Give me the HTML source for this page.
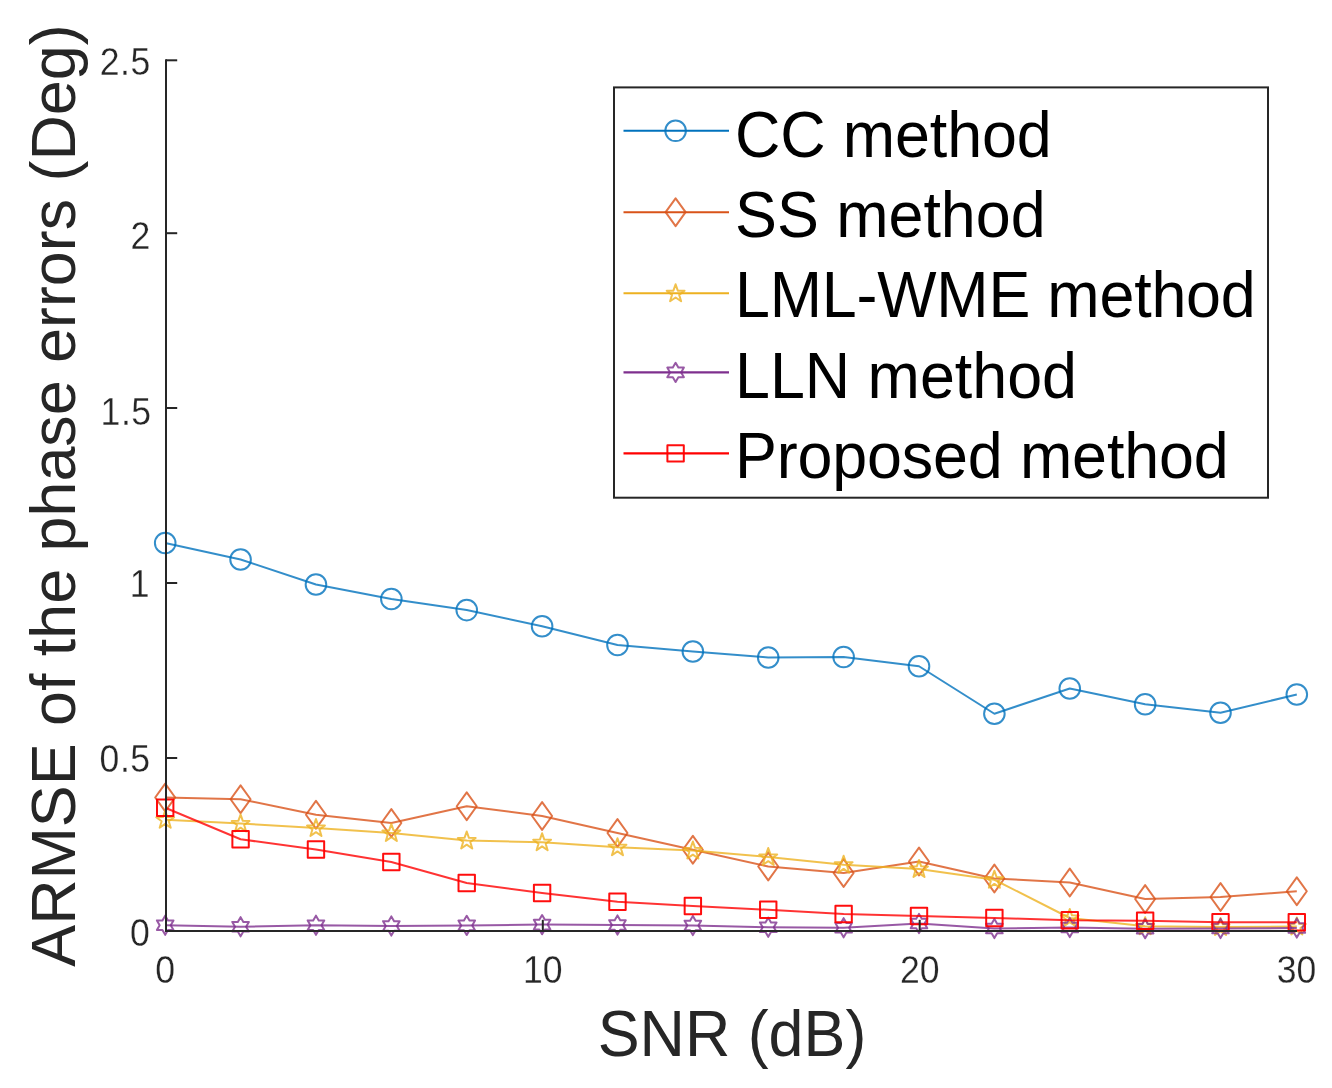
<!DOCTYPE html>
<html lang="en"><head><meta charset="utf-8"><title>ARMSE of the phase errors vs SNR</title>
<style>html,body{margin:0;padding:0;background:#fff}body{width:1332px;height:1088px;overflow:hidden}svg{display:block;filter:blur(0.5px)}</style></head>
<body>
<svg width="1332" height="1088" viewBox="0 0 1332 1088" font-family="'Liberation Sans', Arial, sans-serif">
<rect width="1332" height="1088" fill="#fff"/>
<g>
<polyline points="165.2,543 240.58,559.5 315.96,584.5 391.34,599 466.72,610.1 542.1,626.25 617.48,645 692.86,651.5 768.24,657.5 843.62,657 919,666.25 994.38,713.75 1069.76,688.5 1145.14,704.25 1220.52,712.75 1296.8,694.5" fill="none" stroke="#0072BD" stroke-width="2.0" stroke-opacity="0.8" stroke-linejoin="round"/>
<circle cx="165.2" cy="543" r="10.3" fill="none" stroke="#0072BD" stroke-width="2.0" stroke-opacity="0.8" stroke-linejoin="round"/>
<circle cx="240.58" cy="559.5" r="10.3" fill="none" stroke="#0072BD" stroke-width="2.0" stroke-opacity="0.8" stroke-linejoin="round"/>
<circle cx="315.96" cy="584.5" r="10.3" fill="none" stroke="#0072BD" stroke-width="2.0" stroke-opacity="0.8" stroke-linejoin="round"/>
<circle cx="391.34" cy="599" r="10.3" fill="none" stroke="#0072BD" stroke-width="2.0" stroke-opacity="0.8" stroke-linejoin="round"/>
<circle cx="466.72" cy="610.1" r="10.3" fill="none" stroke="#0072BD" stroke-width="2.0" stroke-opacity="0.8" stroke-linejoin="round"/>
<circle cx="542.1" cy="626.25" r="10.3" fill="none" stroke="#0072BD" stroke-width="2.0" stroke-opacity="0.8" stroke-linejoin="round"/>
<circle cx="617.48" cy="645" r="10.3" fill="none" stroke="#0072BD" stroke-width="2.0" stroke-opacity="0.8" stroke-linejoin="round"/>
<circle cx="692.86" cy="651.5" r="10.3" fill="none" stroke="#0072BD" stroke-width="2.0" stroke-opacity="0.8" stroke-linejoin="round"/>
<circle cx="768.24" cy="657.5" r="10.3" fill="none" stroke="#0072BD" stroke-width="2.0" stroke-opacity="0.8" stroke-linejoin="round"/>
<circle cx="843.62" cy="657" r="10.3" fill="none" stroke="#0072BD" stroke-width="2.0" stroke-opacity="0.8" stroke-linejoin="round"/>
<circle cx="919" cy="666.25" r="10.3" fill="none" stroke="#0072BD" stroke-width="2.0" stroke-opacity="0.8" stroke-linejoin="round"/>
<circle cx="994.38" cy="713.75" r="10.3" fill="none" stroke="#0072BD" stroke-width="2.0" stroke-opacity="0.8" stroke-linejoin="round"/>
<circle cx="1069.76" cy="688.5" r="10.3" fill="none" stroke="#0072BD" stroke-width="2.0" stroke-opacity="0.8" stroke-linejoin="round"/>
<circle cx="1145.14" cy="704.25" r="10.3" fill="none" stroke="#0072BD" stroke-width="2.0" stroke-opacity="0.8" stroke-linejoin="round"/>
<circle cx="1220.52" cy="712.75" r="10.3" fill="none" stroke="#0072BD" stroke-width="2.0" stroke-opacity="0.8" stroke-linejoin="round"/>
<circle cx="1296.8" cy="694.5" r="10.3" fill="none" stroke="#0072BD" stroke-width="2.0" stroke-opacity="0.8" stroke-linejoin="round"/>
</g>
<g>
<polyline points="165.2,797.5 240.58,799.25 315.96,814.75 391.34,823 466.72,806.25 542.1,816 617.48,833 692.86,849.75 768.24,866.5 843.62,873 919,861.5 994.38,878.5 1069.76,882.5 1145.14,899 1220.52,897 1296.8,891.25" fill="none" stroke="#D95319" stroke-width="2.0" stroke-opacity="0.8" stroke-linejoin="round"/>
<polygon points="165.2,783.6 175.2,797.5 165.2,811.4 155.2,797.5" fill="none" stroke="#D95319" stroke-width="2.0" stroke-opacity="0.8" stroke-linejoin="round"/>
<polygon points="240.58,785.35 250.58,799.25 240.58,813.15 230.58,799.25" fill="none" stroke="#D95319" stroke-width="2.0" stroke-opacity="0.8" stroke-linejoin="round"/>
<polygon points="315.96,800.85 325.96,814.75 315.96,828.65 305.96,814.75" fill="none" stroke="#D95319" stroke-width="2.0" stroke-opacity="0.8" stroke-linejoin="round"/>
<polygon points="391.34,809.1 401.34,823 391.34,836.9 381.34,823" fill="none" stroke="#D95319" stroke-width="2.0" stroke-opacity="0.8" stroke-linejoin="round"/>
<polygon points="466.72,792.35 476.72,806.25 466.72,820.15 456.72,806.25" fill="none" stroke="#D95319" stroke-width="2.0" stroke-opacity="0.8" stroke-linejoin="round"/>
<polygon points="542.1,802.1 552.1,816 542.1,829.9 532.1,816" fill="none" stroke="#D95319" stroke-width="2.0" stroke-opacity="0.8" stroke-linejoin="round"/>
<polygon points="617.48,819.1 627.48,833 617.48,846.9 607.48,833" fill="none" stroke="#D95319" stroke-width="2.0" stroke-opacity="0.8" stroke-linejoin="round"/>
<polygon points="692.86,835.85 702.86,849.75 692.86,863.65 682.86,849.75" fill="none" stroke="#D95319" stroke-width="2.0" stroke-opacity="0.8" stroke-linejoin="round"/>
<polygon points="768.24,852.6 778.24,866.5 768.24,880.4 758.24,866.5" fill="none" stroke="#D95319" stroke-width="2.0" stroke-opacity="0.8" stroke-linejoin="round"/>
<polygon points="843.62,859.1 853.62,873 843.62,886.9 833.62,873" fill="none" stroke="#D95319" stroke-width="2.0" stroke-opacity="0.8" stroke-linejoin="round"/>
<polygon points="919,847.6 929,861.5 919,875.4 909,861.5" fill="none" stroke="#D95319" stroke-width="2.0" stroke-opacity="0.8" stroke-linejoin="round"/>
<polygon points="994.38,864.6 1004.38,878.5 994.38,892.4 984.38,878.5" fill="none" stroke="#D95319" stroke-width="2.0" stroke-opacity="0.8" stroke-linejoin="round"/>
<polygon points="1069.76,868.6 1079.76,882.5 1069.76,896.4 1059.76,882.5" fill="none" stroke="#D95319" stroke-width="2.0" stroke-opacity="0.8" stroke-linejoin="round"/>
<polygon points="1145.14,885.1 1155.14,899 1145.14,912.9 1135.14,899" fill="none" stroke="#D95319" stroke-width="2.0" stroke-opacity="0.8" stroke-linejoin="round"/>
<polygon points="1220.52,883.1 1230.52,897 1220.52,910.9 1210.52,897" fill="none" stroke="#D95319" stroke-width="2.0" stroke-opacity="0.8" stroke-linejoin="round"/>
<polygon points="1296.8,877.35 1306.8,891.25 1296.8,905.15 1286.8,891.25" fill="none" stroke="#D95319" stroke-width="2.0" stroke-opacity="0.8" stroke-linejoin="round"/>
</g>
<g>
<polyline points="165.2,819.75 240.58,823.5 315.96,828 391.34,833 466.72,840.5 542.1,842.25 617.48,847.25 692.86,850.5 768.24,857 843.62,864.75 919,869 994.38,879.75 1069.76,918 1145.14,926.3 1220.52,927 1296.8,926.5" fill="none" stroke="#EDB120" stroke-width="2.0" stroke-opacity="0.8" stroke-linejoin="round"/>
<polygon points="165.2,810.75 167.41,817.11 174.14,817.25 168.78,821.31 170.73,827.75 165.2,823.91 159.67,827.75 161.62,821.31 156.26,817.25 162.99,817.11" fill="none" stroke="#EDB120" stroke-width="2.0" stroke-opacity="0.8" stroke-linejoin="round"/>
<polygon points="240.58,814.5 242.79,820.86 249.52,821 244.16,825.06 246.11,831.5 240.58,827.66 235.05,831.5 237,825.06 231.64,821 238.37,820.86" fill="none" stroke="#EDB120" stroke-width="2.0" stroke-opacity="0.8" stroke-linejoin="round"/>
<polygon points="315.96,819 318.17,825.36 324.9,825.5 319.54,829.56 321.49,836 315.96,832.16 310.43,836 312.38,829.56 307.02,825.5 313.75,825.36" fill="none" stroke="#EDB120" stroke-width="2.0" stroke-opacity="0.8" stroke-linejoin="round"/>
<polygon points="391.34,824 393.55,830.36 400.28,830.5 394.92,834.56 396.87,841 391.34,837.16 385.81,841 387.76,834.56 382.4,830.5 389.13,830.36" fill="none" stroke="#EDB120" stroke-width="2.0" stroke-opacity="0.8" stroke-linejoin="round"/>
<polygon points="466.72,831.5 468.93,837.86 475.66,838 470.3,842.06 472.25,848.5 466.72,844.66 461.19,848.5 463.14,842.06 457.78,838 464.51,837.86" fill="none" stroke="#EDB120" stroke-width="2.0" stroke-opacity="0.8" stroke-linejoin="round"/>
<polygon points="542.1,833.25 544.31,839.61 551.04,839.75 545.68,843.81 547.63,850.25 542.1,846.41 536.57,850.25 538.52,843.81 533.16,839.75 539.89,839.61" fill="none" stroke="#EDB120" stroke-width="2.0" stroke-opacity="0.8" stroke-linejoin="round"/>
<polygon points="617.48,838.25 619.69,844.61 626.42,844.75 621.06,848.81 623.01,855.25 617.48,851.41 611.95,855.25 613.9,848.81 608.54,844.75 615.27,844.61" fill="none" stroke="#EDB120" stroke-width="2.0" stroke-opacity="0.8" stroke-linejoin="round"/>
<polygon points="692.86,841.5 695.07,847.86 701.8,848 696.44,852.06 698.39,858.5 692.86,854.66 687.33,858.5 689.28,852.06 683.92,848 690.65,847.86" fill="none" stroke="#EDB120" stroke-width="2.0" stroke-opacity="0.8" stroke-linejoin="round"/>
<polygon points="768.24,848 770.45,854.36 777.18,854.5 771.82,858.56 773.77,865 768.24,861.16 762.71,865 764.66,858.56 759.3,854.5 766.03,854.36" fill="none" stroke="#EDB120" stroke-width="2.0" stroke-opacity="0.8" stroke-linejoin="round"/>
<polygon points="843.62,855.75 845.83,862.11 852.56,862.25 847.2,866.31 849.15,872.75 843.62,868.91 838.09,872.75 840.04,866.31 834.68,862.25 841.41,862.11" fill="none" stroke="#EDB120" stroke-width="2.0" stroke-opacity="0.8" stroke-linejoin="round"/>
<polygon points="919,860 921.21,866.36 927.94,866.5 922.58,870.56 924.53,877 919,873.16 913.47,877 915.42,870.56 910.06,866.5 916.79,866.36" fill="none" stroke="#EDB120" stroke-width="2.0" stroke-opacity="0.8" stroke-linejoin="round"/>
<polygon points="994.38,870.75 996.59,877.11 1003.32,877.25 997.96,881.31 999.91,887.75 994.38,883.91 988.85,887.75 990.8,881.31 985.44,877.25 992.17,877.11" fill="none" stroke="#EDB120" stroke-width="2.0" stroke-opacity="0.8" stroke-linejoin="round"/>
<polygon points="1069.76,909 1071.97,915.36 1078.7,915.5 1073.34,919.56 1075.29,926 1069.76,922.16 1064.23,926 1066.18,919.56 1060.82,915.5 1067.55,915.36" fill="none" stroke="#EDB120" stroke-width="2.0" stroke-opacity="0.8" stroke-linejoin="round"/>
<polygon points="1145.14,917.3 1147.35,923.66 1154.08,923.8 1148.72,927.86 1150.67,934.3 1145.14,930.46 1139.61,934.3 1141.56,927.86 1136.2,923.8 1142.93,923.66" fill="none" stroke="#EDB120" stroke-width="2.0" stroke-opacity="0.8" stroke-linejoin="round"/>
<polygon points="1220.52,918 1222.73,924.36 1229.46,924.5 1224.1,928.56 1226.05,935 1220.52,931.16 1214.99,935 1216.94,928.56 1211.58,924.5 1218.31,924.36" fill="none" stroke="#EDB120" stroke-width="2.0" stroke-opacity="0.8" stroke-linejoin="round"/>
<polygon points="1296.8,917.5 1299.01,923.86 1305.74,924 1300.38,928.06 1302.33,934.5 1296.8,930.66 1291.27,934.5 1293.22,928.06 1287.86,924 1294.59,923.86" fill="none" stroke="#EDB120" stroke-width="2.0" stroke-opacity="0.8" stroke-linejoin="round"/>
</g>
<g>
<polyline points="165.2,925.25 240.58,926.75 315.96,925.25 391.34,926 466.72,925.4 542.1,924.6 617.48,925 692.86,925.5 768.24,927.25 843.62,927.75 919,923.5 994.38,928.5 1069.76,927.5 1145.14,928.7 1220.52,928.5 1296.8,928" fill="none" stroke="#7E2F8E" stroke-width="2.0" stroke-opacity="0.8" stroke-linejoin="round"/>
<polygon points="165.2,915.65 167.97,920.45 173.51,920.45 170.74,925.25 173.51,930.05 167.97,930.05 165.2,934.85 162.43,930.05 156.89,930.05 159.66,925.25 156.89,920.45 162.43,920.45" fill="none" stroke="#7E2F8E" stroke-width="2.0" stroke-opacity="0.8" stroke-linejoin="round"/>
<polygon points="240.58,917.15 243.35,921.95 248.89,921.95 246.12,926.75 248.89,931.55 243.35,931.55 240.58,936.35 237.81,931.55 232.27,931.55 235.04,926.75 232.27,921.95 237.81,921.95" fill="none" stroke="#7E2F8E" stroke-width="2.0" stroke-opacity="0.8" stroke-linejoin="round"/>
<polygon points="315.96,915.65 318.73,920.45 324.27,920.45 321.5,925.25 324.27,930.05 318.73,930.05 315.96,934.85 313.19,930.05 307.65,930.05 310.42,925.25 307.65,920.45 313.19,920.45" fill="none" stroke="#7E2F8E" stroke-width="2.0" stroke-opacity="0.8" stroke-linejoin="round"/>
<polygon points="391.34,916.4 394.11,921.2 399.65,921.2 396.88,926 399.65,930.8 394.11,930.8 391.34,935.6 388.57,930.8 383.03,930.8 385.8,926 383.03,921.2 388.57,921.2" fill="none" stroke="#7E2F8E" stroke-width="2.0" stroke-opacity="0.8" stroke-linejoin="round"/>
<polygon points="466.72,915.8 469.49,920.6 475.03,920.6 472.26,925.4 475.03,930.2 469.49,930.2 466.72,935 463.95,930.2 458.41,930.2 461.18,925.4 458.41,920.6 463.95,920.6" fill="none" stroke="#7E2F8E" stroke-width="2.0" stroke-opacity="0.8" stroke-linejoin="round"/>
<polygon points="542.1,915 544.87,919.8 550.41,919.8 547.64,924.6 550.41,929.4 544.87,929.4 542.1,934.2 539.33,929.4 533.79,929.4 536.56,924.6 533.79,919.8 539.33,919.8" fill="none" stroke="#7E2F8E" stroke-width="2.0" stroke-opacity="0.8" stroke-linejoin="round"/>
<polygon points="617.48,915.4 620.25,920.2 625.79,920.2 623.02,925 625.79,929.8 620.25,929.8 617.48,934.6 614.71,929.8 609.17,929.8 611.94,925 609.17,920.2 614.71,920.2" fill="none" stroke="#7E2F8E" stroke-width="2.0" stroke-opacity="0.8" stroke-linejoin="round"/>
<polygon points="692.86,915.9 695.63,920.7 701.17,920.7 698.4,925.5 701.17,930.3 695.63,930.3 692.86,935.1 690.09,930.3 684.55,930.3 687.32,925.5 684.55,920.7 690.09,920.7" fill="none" stroke="#7E2F8E" stroke-width="2.0" stroke-opacity="0.8" stroke-linejoin="round"/>
<polygon points="768.24,917.65 771.01,922.45 776.55,922.45 773.78,927.25 776.55,932.05 771.01,932.05 768.24,936.85 765.47,932.05 759.93,932.05 762.7,927.25 759.93,922.45 765.47,922.45" fill="none" stroke="#7E2F8E" stroke-width="2.0" stroke-opacity="0.8" stroke-linejoin="round"/>
<polygon points="843.62,918.15 846.39,922.95 851.93,922.95 849.16,927.75 851.93,932.55 846.39,932.55 843.62,937.35 840.85,932.55 835.31,932.55 838.08,927.75 835.31,922.95 840.85,922.95" fill="none" stroke="#7E2F8E" stroke-width="2.0" stroke-opacity="0.8" stroke-linejoin="round"/>
<polygon points="919,913.9 921.77,918.7 927.31,918.7 924.54,923.5 927.31,928.3 921.77,928.3 919,933.1 916.23,928.3 910.69,928.3 913.46,923.5 910.69,918.7 916.23,918.7" fill="none" stroke="#7E2F8E" stroke-width="2.0" stroke-opacity="0.8" stroke-linejoin="round"/>
<polygon points="994.38,918.9 997.15,923.7 1002.69,923.7 999.92,928.5 1002.69,933.3 997.15,933.3 994.38,938.1 991.61,933.3 986.07,933.3 988.84,928.5 986.07,923.7 991.61,923.7" fill="none" stroke="#7E2F8E" stroke-width="2.0" stroke-opacity="0.8" stroke-linejoin="round"/>
<polygon points="1069.76,917.9 1072.53,922.7 1078.07,922.7 1075.3,927.5 1078.07,932.3 1072.53,932.3 1069.76,937.1 1066.99,932.3 1061.45,932.3 1064.22,927.5 1061.45,922.7 1066.99,922.7" fill="none" stroke="#7E2F8E" stroke-width="2.0" stroke-opacity="0.8" stroke-linejoin="round"/>
<polygon points="1145.14,919.1 1147.91,923.9 1153.45,923.9 1150.68,928.7 1153.45,933.5 1147.91,933.5 1145.14,938.3 1142.37,933.5 1136.83,933.5 1139.6,928.7 1136.83,923.9 1142.37,923.9" fill="none" stroke="#7E2F8E" stroke-width="2.0" stroke-opacity="0.8" stroke-linejoin="round"/>
<polygon points="1220.52,918.9 1223.29,923.7 1228.83,923.7 1226.06,928.5 1228.83,933.3 1223.29,933.3 1220.52,938.1 1217.75,933.3 1212.21,933.3 1214.98,928.5 1212.21,923.7 1217.75,923.7" fill="none" stroke="#7E2F8E" stroke-width="2.0" stroke-opacity="0.8" stroke-linejoin="round"/>
<polygon points="1296.8,918.4 1299.57,923.2 1305.11,923.2 1302.34,928 1305.11,932.8 1299.57,932.8 1296.8,937.6 1294.03,932.8 1288.49,932.8 1291.26,928 1288.49,923.2 1294.03,923.2" fill="none" stroke="#7E2F8E" stroke-width="2.0" stroke-opacity="0.8" stroke-linejoin="round"/>
</g>
<g>
<polyline points="165.2,807.75 240.58,839.25 315.96,849.5 391.34,862 466.72,883 542.1,893 617.48,901.75 692.86,906 768.24,909.75 843.62,914 919,916 994.38,918 1069.76,920.3 1145.14,920.7 1220.52,922.25 1296.8,922.25" fill="none" stroke="#FF0000" stroke-width="2.0" stroke-opacity="0.8" stroke-linejoin="round"/>
<rect x="157" y="799.55" width="16.4" height="16.4" fill="none" stroke="#FF0000" stroke-width="2.0" stroke-opacity="0.95" stroke-linejoin="round"/>
<rect x="232.38" y="831.05" width="16.4" height="16.4" fill="none" stroke="#FF0000" stroke-width="2.0" stroke-opacity="0.95" stroke-linejoin="round"/>
<rect x="307.76" y="841.3" width="16.4" height="16.4" fill="none" stroke="#FF0000" stroke-width="2.0" stroke-opacity="0.95" stroke-linejoin="round"/>
<rect x="383.14" y="853.8" width="16.4" height="16.4" fill="none" stroke="#FF0000" stroke-width="2.0" stroke-opacity="0.95" stroke-linejoin="round"/>
<rect x="458.52" y="874.8" width="16.4" height="16.4" fill="none" stroke="#FF0000" stroke-width="2.0" stroke-opacity="0.95" stroke-linejoin="round"/>
<rect x="533.9" y="884.8" width="16.4" height="16.4" fill="none" stroke="#FF0000" stroke-width="2.0" stroke-opacity="0.95" stroke-linejoin="round"/>
<rect x="609.28" y="893.55" width="16.4" height="16.4" fill="none" stroke="#FF0000" stroke-width="2.0" stroke-opacity="0.95" stroke-linejoin="round"/>
<rect x="684.66" y="897.8" width="16.4" height="16.4" fill="none" stroke="#FF0000" stroke-width="2.0" stroke-opacity="0.95" stroke-linejoin="round"/>
<rect x="760.04" y="901.55" width="16.4" height="16.4" fill="none" stroke="#FF0000" stroke-width="2.0" stroke-opacity="0.95" stroke-linejoin="round"/>
<rect x="835.42" y="905.8" width="16.4" height="16.4" fill="none" stroke="#FF0000" stroke-width="2.0" stroke-opacity="0.95" stroke-linejoin="round"/>
<rect x="910.8" y="907.8" width="16.4" height="16.4" fill="none" stroke="#FF0000" stroke-width="2.0" stroke-opacity="0.95" stroke-linejoin="round"/>
<rect x="986.18" y="909.8" width="16.4" height="16.4" fill="none" stroke="#FF0000" stroke-width="2.0" stroke-opacity="0.95" stroke-linejoin="round"/>
<rect x="1061.56" y="912.1" width="16.4" height="16.4" fill="none" stroke="#FF0000" stroke-width="2.0" stroke-opacity="0.95" stroke-linejoin="round"/>
<rect x="1136.94" y="912.5" width="16.4" height="16.4" fill="none" stroke="#FF0000" stroke-width="2.0" stroke-opacity="0.95" stroke-linejoin="round"/>
<rect x="1212.32" y="914.05" width="16.4" height="16.4" fill="none" stroke="#FF0000" stroke-width="2.0" stroke-opacity="0.95" stroke-linejoin="round"/>
<rect x="1288.6" y="914.05" width="16.4" height="16.4" fill="none" stroke="#FF0000" stroke-width="2.0" stroke-opacity="0.95" stroke-linejoin="round"/>
</g>
<g fill="#262626">
<rect x="165" y="59.3" width="2" height="872.7"/>
<rect x="165" y="930" width="1132" height="2"/>
<rect x="166" y="59.3" width="11.2" height="2"/>
<rect x="166" y="232.2" width="11.2" height="2"/>
<rect x="166" y="407" width="11.2" height="2"/>
<rect x="166" y="582" width="11.2" height="2"/>
<rect x="166" y="757" width="11.2" height="2"/>
<rect x="166" y="930" width="11.2" height="2"/>
<rect x="541.8" y="919.8" width="2" height="11"/>
<rect x="918.7" y="919.8" width="2" height="11"/>
</g>
<g fill="#262626" font-size="35.6" stroke="#fff" stroke-width="0.25">
<text transform="translate(150.8,75.1) scale(1,1.07)" text-anchor="end" letter-spacing="0.5">2.5</text>
<text transform="translate(150.4,249.2) scale(1,1.07)" text-anchor="end">2</text>
<text transform="translate(151.6,424.9) scale(1,1.07)" text-anchor="end" letter-spacing="0.5">1.5</text>
<text transform="translate(149.6,597.1) scale(1,1.07)" text-anchor="end">1</text>
<text transform="translate(150.6,771.9) scale(1,1.07)" text-anchor="end" letter-spacing="0.5">0.5</text>
<text transform="translate(149.8,946.3) scale(1,1.07)" text-anchor="end">0</text>
<text transform="translate(165.2,982.5) scale(1,1.07)" text-anchor="middle">0</text>
<text transform="translate(542.8,982.5) scale(1,1.07)" text-anchor="middle">10</text>
<text transform="translate(919.7,982.5) scale(1,1.07)" text-anchor="middle">20</text>
<text transform="translate(1296.6,982.5) scale(1,1.07)" text-anchor="middle">30</text>
</g>
<text transform="translate(732,1056.4) scale(1,1.03)" font-size="62.8" text-anchor="middle" fill="#262626">SNR (dB)</text>
<text transform="translate(75,495.6) rotate(-90)" font-size="62.8" text-anchor="middle" fill="#262626">ARMSE of the phase errors (Deg)</text>
<rect x="614" y="87.4" width="654" height="410.3" fill="#fff" stroke="#262626" stroke-width="2"/>
<line x1="623.5" x2="729" y1="130.8" y2="130.8" stroke="#0072BD" stroke-width="2.1"/>
<circle cx="675.6" cy="130.8" r="10.3" fill="none" stroke="#0072BD" stroke-width="2.0" stroke-opacity="0.8" stroke-linejoin="round"/>
<text transform="translate(735,156.9) scale(1,1.03)" font-size="62.8" fill="#000" letter-spacing="-0.1">CC method</text>
<line x1="623.5" x2="729" y1="212.2" y2="212.2" stroke="#D95319" stroke-width="2.1"/>
<polygon points="675.6,198.3 685.6,212.2 675.6,226.1 665.6,212.2" fill="none" stroke="#D95319" stroke-width="2.0" stroke-opacity="0.8" stroke-linejoin="round"/>
<text transform="translate(735,236.8) scale(1,1.03)" font-size="62.8" fill="#000">SS method</text>
<line x1="623.5" x2="729" y1="293.3" y2="293.3" stroke="#EDB120" stroke-width="2.1"/>
<polygon points="675.6,284.3 677.81,290.66 684.54,290.8 679.18,294.86 681.13,301.3 675.6,297.46 670.07,301.3 672.02,294.86 666.66,290.8 673.39,290.66" fill="none" stroke="#EDB120" stroke-width="2.0" stroke-opacity="0.8" stroke-linejoin="round"/>
<text transform="translate(735,317.3) scale(1,1.03)" font-size="62.8" fill="#000" letter-spacing="-0.2">LML-WME method</text>
<line x1="623.5" x2="729" y1="372.4" y2="372.4" stroke="#7E2F8E" stroke-width="2.1"/>
<polygon points="675.6,362.8 678.37,367.6 683.91,367.6 681.14,372.4 683.91,377.2 678.37,377.2 675.6,382 672.83,377.2 667.29,377.2 670.06,372.4 667.29,367.6 672.83,367.6" fill="none" stroke="#7E2F8E" stroke-width="2.0" stroke-opacity="0.8" stroke-linejoin="round"/>
<text transform="translate(735,398.3) scale(1,1.03)" font-size="62.8" fill="#000">LLN method</text>
<line x1="623.5" x2="729" y1="453.4" y2="453.4" stroke="#FF0000" stroke-width="2.1"/>
<rect x="667.4" y="445.2" width="16.4" height="16.4" fill="none" stroke="#FF0000" stroke-width="2.0" stroke-opacity="0.95" stroke-linejoin="round"/>
<text transform="translate(735,477.7) scale(1,1.03)" font-size="62.8" fill="#000" letter-spacing="-0.14">Proposed method</text>
</svg>
</body></html>
